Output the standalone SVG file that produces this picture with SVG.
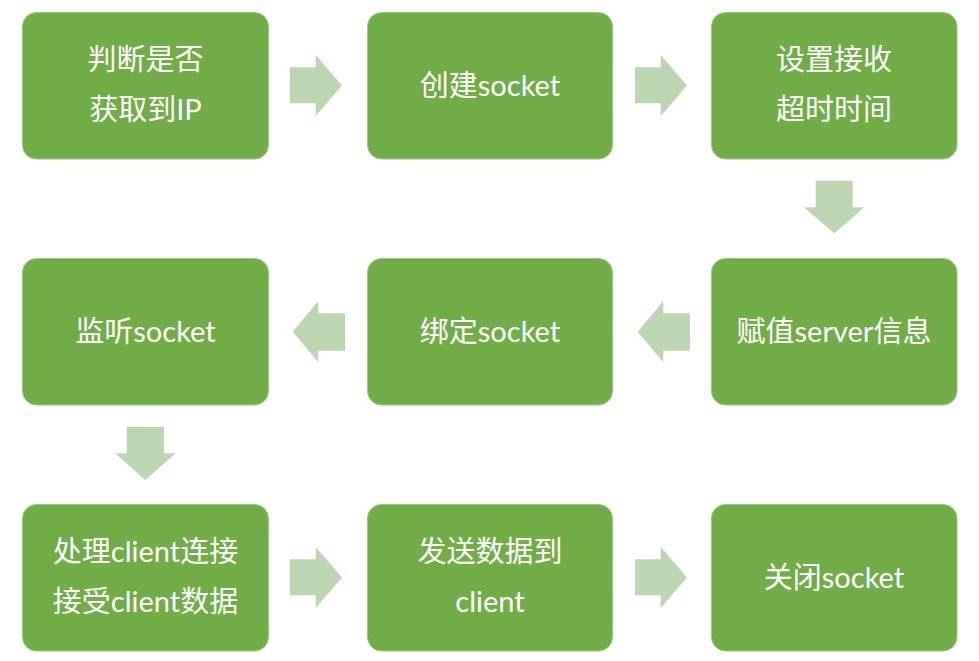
<svg xmlns="http://www.w3.org/2000/svg" width="979" height="661" viewBox="0 0 979 661">
<style>
.box{fill:#70AD47;stroke:#9BC77E;stroke-width:1}
.t{fill:#FFFFFF;font-family:"Lato","Noto Sans CJK SC",sans-serif;font-size:29px;text-anchor:middle}
.arr{fill:#BDD6B2}
</style>
<rect width="979" height="661" fill="#FFFFFF"/>
<g id="n1"><rect class="box" x="22.5" y="12.5" width="246" height="146.5" rx="14"/><text class="t" x="145.5" y="70">判断是否</text><text class="t" x="145.5" y="120">获取到IP</text></g>
<g id="n2"><rect class="box" x="367.5" y="12.5" width="245" height="146.5" rx="14"/><text class="t" x="490" y="95.5">创建socket</text></g>
<g id="n3"><rect class="box" x="711.5" y="12.5" width="245.5" height="146.5" rx="14"/><text class="t" x="834" y="70">设置接收</text><text class="t" x="834" y="120">超时时间</text></g>
<g id="n4"><rect class="box" x="711.5" y="258.5" width="245.5" height="146.5" rx="14"/><text class="t" x="834" y="341.5">赋值server信息</text></g>
<g id="n5"><rect class="box" x="367.5" y="258.5" width="245" height="146.5" rx="14"/><text class="t" x="490" y="341.5">绑定socket</text></g>
<g id="n6"><rect class="box" x="22.5" y="258.5" width="246" height="146.5" rx="14"/><text class="t" x="145.5" y="341.5">监听socket</text></g>
<g id="n7"><rect class="box" x="22.5" y="504.5" width="246" height="146.5" rx="14"/><text class="t" x="145.5" y="562">处理client连接</text><text class="t" x="145.5" y="612">接受client数据</text></g>
<g id="n8"><rect class="box" x="367.5" y="504.5" width="245" height="146.5" rx="14"/><text class="t" x="490" y="562">发送数据到</text><text class="t" x="490" y="612">client</text></g>
<g id="n9"><rect class="box" x="711.5" y="504.5" width="245.5" height="146.5" rx="14"/><text class="t" x="834" y="587.5">关闭socket</text></g>
<g id="connectors">
<polygon class="arr" points="290,67.3 315.7,67.3 315.7,55 342,85.6 315.7,116 315.7,103.3 290,103.3"/>
<polygon class="arr" points="635,67.3 660.7,67.3 660.7,55 687,85.6 660.7,116 660.7,103.3 635,103.3"/>
<polygon class="arr" points="815.7,180.7 852.7,180.7 852.7,207.3 864.3,207.3 834.2,233.5 804,207.3 815.7,207.3"/>
<polygon class="arr" points="690,313.3 663.3,313.3 663.3,301 637.7,331.7 663.3,362.3 663.3,350.7 690,350.7"/>
<polygon class="arr" points="345,313.3 318.3,313.3 318.3,301 292.7,331.7 318.3,362.3 318.3,350.7 345,350.7"/>
<polygon class="arr" points="126.7,426.7 164,426.7 164,453.3 175.7,453.3 145.3,480 115,453.3 126.7,453.3"/>
<polygon class="arr" points="290,559.3 315.7,559.3 315.7,547 342,577.6 315.7,608 315.7,595.3 290,595.3"/>
<polygon class="arr" points="635,559.3 660.7,559.3 660.7,547 687,577.6 660.7,608 660.7,595.3 635,595.3"/>
</g>
</svg>
